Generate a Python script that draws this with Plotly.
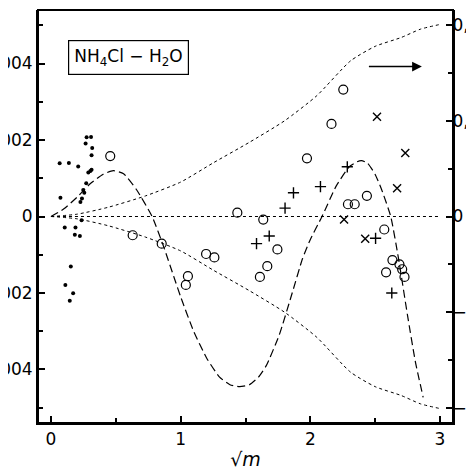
import plotly.graph_objects as go

dots_x = [0.067,0.138,0.21,0.073,0.106,0.189,0.184,0.223,0.153,0.111,0.171,0.145,0.227,0.239,0.275,0.309,0.267,0.318,0.313,0.288,0.304,0.313,0.272,0.249,0.257,0.236]
dots_y = [0.00139,0.0014,0.00131,0.00049,-0.00029,-0.00029,-0.00048,-0.00051,-0.00131,-0.00179,-0.00201,-0.0022,0.00038,0.00047,0.00207,0.00208,0.00191,0.00179,0.0016,0.00115,0.00119,0.00122,0.00087,0.00069,0.00062,-0.0001]
circ_x = [0.457,0.63,0.854,1.04,1.056,1.196,1.26,1.437,1.637,1.611,1.668,1.746,1.974,2.163,2.254,2.29,2.342,2.436,2.57,2.584,2.633,2.687,2.708,2.726]
circ_y = [0.00158,-0.00049,-0.00071,-0.00179,-0.00156,-0.00098,-0.00107,0.0001,-0.00008,-0.00158,-0.0013,-0.00086,0.00152,0.00242,0.00332,0.00032,0.00032,0.00054,-0.00034,-0.00146,-0.00114,-0.00125,-0.00138,-0.00158]
plus_x = [1.585,1.683,1.805,1.87,2.078,2.285,2.503,2.628]
plus_y = [-0.00071,-0.00051,0.00022,0.00062,0.00078,0.0013,-0.00057,-0.002]
cross_x = [2.26,2.514,2.732,2.669,2.423]
cross_y = [-0.00008,0.00261,0.00166,0.00074,-0.00058]
theory_x = [0,0.1,0.2,0.3,0.4,0.48,0.56,0.66,0.78,0.87,0.95,1.0,1.1,1.2,1.3,1.38,1.455,1.53,1.6,1.66,1.76,1.86,1.94,2.0,2.09,2.2,2.3,2.36,2.394,2.44,2.5,2.55,2.62,2.68,2.75,2.81,2.87]
theory_y = [0,0.0002,0.0005,0.00085,0.0011,0.0012,0.00112,0.0007,0,-0.0008,-0.0016,-0.0021,-0.003,-0.0037,-0.0042,-0.0044,-0.00445,-0.0044,-0.0042,-0.0039,-0.0031,-0.002,-0.0011,-0.0006,0,0.0008,0.0013,0.00143,0.00146,0.0014,0.0011,0.0007,0,-0.0011,-0.0026,-0.0038,-0.00473]
env_x = [0,0.2,0.44,0.73,1.0,1.25,1.53,1.8,2.05,2.31,2.5,2.7,2.85,3.01]
env_y = [0,0.00006,0.00024,0.00054,0.0009,0.0014,0.00194,0.0025,0.00316,0.00407,0.00445,0.00468,0.0049,0.00503]
zero_x = [0,3.0]
zero_y = [0,0]

left_ticks = [-0.004,-0.002,0,0.002,0.004]
left_labels = ["−0,004","−0,002","0","0,002","0,004"]
right_ticks = [-0.02,-0.01,0,0.01,0.02]
right_labels = ["−0,02","−0,01","0","0,01","0,02"]

fig = go.Figure()
fig.add_trace(go.Scatter(x=env_x, y=env_y, mode="lines", line=dict(color="black", width=1, dash="dot", shape="spline", smoothing=0.6)))
fig.add_trace(go.Scatter(x=env_x, y=[-v for v in env_y], mode="lines", line=dict(color="black", width=1, dash="dot", shape="spline", smoothing=0.6)))
fig.add_trace(go.Scatter(x=zero_x, y=zero_y, mode="lines", line=dict(color="black", width=1.2, dash="3px,3px")))
fig.add_trace(go.Scatter(x=theory_x, y=theory_y, mode="lines", line=dict(color="black", width=1.2, dash="8px,4px", shape="spline", smoothing=0.5)))
fig.add_trace(go.Scatter(x=dots_x, y=dots_y, mode="markers", marker=dict(color="black", size=4)))
fig.add_trace(go.Scatter(x=circ_x, y=circ_y, mode="markers", marker=dict(symbol="circle-open", color="black", size=9, line=dict(width=1.2))))
fig.add_trace(go.Scatter(x=plus_x, y=plus_y, mode="markers", marker=dict(symbol="cross-thin-open", color="black", size=8, line=dict(width=1.4, color="black"))))
fig.add_trace(go.Scatter(x=cross_x, y=cross_y, mode="markers", marker=dict(symbol="x-thin-open", color="black", size=8, line=dict(width=1.4, color="black"))))
fig.add_trace(go.Scatter(x=[0], y=[0], yaxis="y2", mode="markers", marker=dict(opacity=0), hoverinfo="skip"))

fig.add_annotation(x=2.86, y=0.00392, ax=2.44, ay=0.00392, xref="x", yref="y", axref="x", ayref="y",
                   showarrow=True, arrowhead=2, arrowsize=1.3, arrowwidth=1.5, arrowcolor="black", text="")
fig.add_annotation(x=0.6, y=0.00416, xref="x", yref="y", showarrow=False,
                   text="NH<sub>4</sub>Cl − H<sub>2</sub>O", font=dict(size=17, color="black"),
                   bordercolor="black", borderwidth=1.2, borderpad=5, bgcolor="white")

ax = dict(showline=True, linecolor="black", linewidth=2, mirror=False, showgrid=False, zeroline=False,
          ticks="inside", ticklen=7, tickwidth=1.5, tickcolor="black", tickfont=dict(size=17, color="black", family="DejaVu Sans"))
fig.update_layout(
    width=474, height=474, margin=dict(l=30, r=29, t=2, b=59),
    paper_bgcolor="white", plot_bgcolor="white", showlegend=False,
    font=dict(family="DejaVu Sans", color="black"),
    xaxis=dict(**ax, range=[-0.1, 3.1], tickvals=[0,1,2,3], ticktext=["0","1","2","3"],
               minor=dict(tickvals=[0.5,1.5,2.5], ticks="inside", ticklen=5, tickcolor="black"),
               title=dict(text="√<i>m</i>", font=dict(size=19), standoff=4)),
    yaxis=dict(**ax, range=[-0.0054, 0.0054], tickvals=left_ticks, ticktext=left_labels, automargin=False,
               minor=dict(tickvals=[-0.005,-0.003,-0.001,0.001,0.003,0.005], ticks="inside", ticklen=5, tickcolor="black")),
    yaxis2=dict(**ax, overlaying="y", side="right", range=[-0.0216, 0.0216], tickvals=right_ticks, ticktext=right_labels,
                automargin=False, ticklabelstandoff=-6,
                minor=dict(tickvals=[-0.015,-0.005,0.005,0.015], ticks="inside", ticklen=5, tickcolor="black")),
)
fig.add_shape(type="rect", xref="paper", yref="paper", x0=0, y0=0, x1=1, y1=1, line=dict(color="black", width=2))
fig.write_html("out.html")
